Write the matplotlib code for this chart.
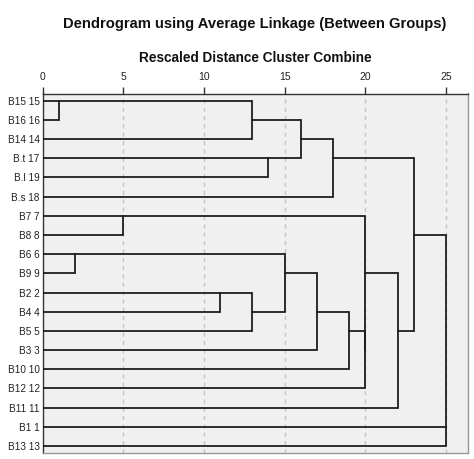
import matplotlib
matplotlib.use("Agg")
import matplotlib.pyplot as plt

plt.rcParams['font.family'] = ['Liberation Sans', 'DejaVu Sans']

# Leaf labels in display order (top to bottom)
leaf_labels = ["B15 15", "B16 16", "B14 14", "B.t 17", "B.l 19", "B.s 18",
               "B7 7", "B8 8", "B6 6", "B9 9", "B2 2", "B4 4", "B5 5",
               "B3 3", "B10 10", "B12 12", "B11 11", "B1 1", "B13 13"]

# Merge steps: each joins two nodes (leaf index, or earlier cluster id;
# cluster ids start at len(leaf_labels) in the order listed here)
merge_left = [0, 19, 3, 20, 22, 6, 8, 10, 26, 25, 28, 29, 30, 24, 32, 23, 17, 34]
merge_right = [1, 2, 4, 21, 5, 7, 9, 11, 12, 27, 13, 14, 15, 31, 16, 33, 18, 35]
merge_dist = [1, 13, 14, 16, 18, 5, 2, 11, 13, 15, 17, 19, 20, 20, 22, 23, 25, 25]

xticks = [0, 5, 10, 15, 20, 25]

fig = plt.figure(figsize=(4.74, 4.59), dpi=100)
W, H = 474, 459
ax = fig.add_axes([42.5 / W, 1 - 452.5 / H, 425 / W, 359 / H])
ax.set_facecolor('#f0f0f0')

n = len(leaf_labels)
pos = {i: i for i in range(n)}
hgt = {i: 0 for i in range(n)}

for k, (a, b, d) in enumerate(zip(merge_left, merge_right, merge_dist)):
    cid = n + k
    pa, pb = pos[a], pos[b]
    ha, hb = hgt[a], hgt[b]
    ax.plot([ha, d, d, hb], [pa, pa, pb, pb], color='#1e1e1e', lw=1.3,
            solid_joinstyle='miter', zorder=3)
    # SPSS style: new cluster sits on the upper middle row
    pos[cid] = (pa + pb) // 2
    hgt[cid] = d

for x in xticks[1:]:
    ax.axvline(x, color='#c4c4c4', lw=1.0, ls=(0, (3, 3)), zorder=1)

ax.set_xlim(0, 26.33)
ax.set_ylim(18.34, -0.38)
ax.xaxis.tick_top()
ax.set_xticks(xticks)
ax.set_xticklabels([str(t) for t in xticks], fontsize=7.5, color='#222222')
ax.tick_params(axis='x', direction='out', length=5, width=1, color='#333333', pad=3)
ax.set_yticks(range(n))
ax.set_yticklabels(leaf_labels, fontsize=7.2, color='#222222')
ax.tick_params(axis='y', length=0, pad=2)

for s in ['top', 'left']:
    ax.spines[s].set_color('#333333')
    ax.spines[s].set_linewidth(1.0)
for s in ['right', 'bottom']:
    ax.spines[s].set_color('#999999')
    ax.spines[s].set_linewidth(1.0)

fig.text(255 / W, 1 - 24 / H, "Dendrogram using Average Linkage (Between Groups)",
         ha='center', va='center', fontsize=10.6, fontweight='bold', color='#111111')
fig.text(255 / W, 1 - 57.5 / H, "Rescaled Distance Cluster Combine",
         ha='center', va='center', fontsize=9.8, fontweight='bold', color='#111111')

fig.savefig("out.png", dpi=100)
